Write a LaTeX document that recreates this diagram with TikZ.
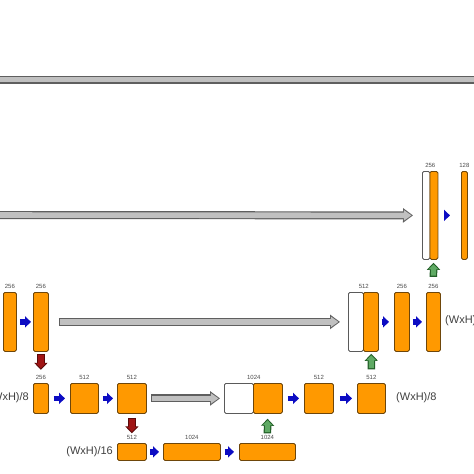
\documentclass[tikz,border=0pt]{standalone}
\usepackage{fontspec}
\setmainfont{Liberation Sans}
\usetikzlibrary{positioning,arrows.meta}
\definecolor{maporange}{RGB}{255,153,0}
\definecolor{mapedge}{RGB}{110,70,10}
\definecolor{copyedge}{RGB}{90,90,90}
\definecolor{convblue}{RGB}{12,12,195}
\definecolor{skipfill}{RGB}{192,192,192}
\definecolor{skipedge}{RGB}{95,95,95}
\definecolor{poolred}{RGB}{160,20,20}
\definecolor{pooledge}{RGB}{90,10,10}
\definecolor{upgreen}{RGB}{95,170,100}
\definecolor{upedge}{RGB}{35,95,40}
% fat arrow: edge pass, then fill pass
\newcommand\fatarrow[5]{%
  \draw[#1 edge, shorten <=#4, shorten >=#5] (#2) -- (#3);
  \draw[#1 fill, shorten <=#4+1.2pt, shorten >=#5+1.5pt] (#2) -- (#3);}
\begin{document}
\begin{tikzpicture}[x=1pt, y=-1pt,
        fmap/.style={draw=mapedge, fill=maporange, line width=0.8pt, rounded corners=1.5pt, inner sep=0pt, anchor=north west},
        cmap/.style={fmap, draw=copyedge, fill=white},
        chan/.style={font=\fontsize{6}{7}\selectfont, text=black!70, inner sep=0.5pt},
        reso/.style={font=\fontsize{11}{13}\selectfont, text=black!75, inner sep=0pt},
        conv/.style={draw=convblue, line width=5.5pt, -{Triangle[length=6pt, width=11pt]}, shorten <=4pt, shorten >=4pt},
        skip edge/.style={draw=skipedge, line width=8pt, -{Triangle[length=10pt, width=14pt]}},
        skip fill/.style={draw=skipfill, line width=5.6pt, -{Triangle[length=7.6pt, width=10pt]}},
        pool edge/.style={draw=pooledge, line width=8.5pt, -{Triangle[length=7pt, width=13pt]}},
        pool fill/.style={draw=poolred, line width=6pt, -{Triangle[length=5pt, width=9.5pt]}},
        up edge/.style={draw=upedge, line width=7.5pt, -{Triangle[length=7pt, width=13pt]}},
        up fill/.style={draw=upgreen, line width=5pt, -{Triangle[length=5pt, width=9.5pt]}}]
    \clip (0,0) rectangle (474,474);
    \fill[white] (0,0) rectangle (474,474);
    % level 2
    \node[cmap, minimum width=7.5pt, minimum height=88pt] (u2w) at (422,171) {};
    \node[fmap, minimum width=8pt, minimum height=88pt] (u2a) at (429.5,171) {};
    \node[fmap, minimum width=6pt, minimum height=88pt] (u2b) at (461,171) {};
    \node[chan, above=3pt of u2w.north east] (c-u2a) {256};
    \node[chan, above=3pt of u2b] (c-u2b) {128};
    % level 3
    \node[fmap, minimum width=13pt, minimum height=59pt] (d3a) at (3,292) {};
    \node[fmap, minimum width=15pt, minimum height=59pt] (d3b) at (33,292) {};
    \node[cmap, minimum width=15pt, minimum height=59pt] (u3w) at (348,292) {};
    \node[fmap, minimum width=15pt, minimum height=59pt] (u3a) at (363,292) {};
    \node[fmap, minimum width=15pt, minimum height=59pt] (u3b) at (394,292) {};
    \node[fmap, minimum width=14pt, minimum height=59pt] (u3c) at (426,292) {};
    \node[chan, above=3pt of d3a] (c-d3a) {256};
    \node[chan, above=3pt of d3b] (c-d3b) {256};
    \node[chan, above=3pt of u3w.north east] (c-u3a) {512};
    \node[chan, above=3pt of u3b] (c-u3b) {256};
    \node[chan, above=3pt of u3c] (c-u3c) {256};
    \node[reso, anchor=west] (r3) at (445,321) {(WxH)/4};
    % level 4
    \node[fmap, minimum width=15pt, minimum height=30pt] (d4a) at (33,383) {};
    \node[fmap, minimum width=28pt, minimum height=30pt] (d4b) at (70,383) {};
    \node[fmap, minimum width=29pt, minimum height=30pt] (d4c) at (117,383) {};
    \node[cmap, minimum width=29pt, minimum height=30pt] (u4w) at (224,383) {};
    \node[fmap, minimum width=29pt, minimum height=30pt] (u4a) at (253,383) {};
    \node[fmap, minimum width=29pt, minimum height=30pt] (u4b) at (304,383) {};
    \node[fmap, minimum width=28pt, minimum height=30pt] (u4c) at (357,383) {};
    \node[chan, above=3pt of d4a] (c-d4a) {256};
    \node[chan, above=3pt of d4b] (c-d4b) {512};
    \node[chan, above=3pt of d4c] (c-d4c) {512};
    \node[chan, above=3pt of u4w.north east] (c-u4a) {1024};
    \node[chan, above=3pt of u4b] (c-u4b) {512};
    \node[chan, above=3pt of u4c] (c-u4c) {512};
    \node[reso, anchor=east] (r4l) at (29,398) {(WxH)/8};
    \node[reso, anchor=west] (r4r) at (396,398) {(WxH)/8};
    % level 5
    \node[fmap, minimum width=29pt, minimum height=17pt] (b5a) at (117,443) {};
    \node[fmap, minimum width=57pt, minimum height=17pt] (b5b) at (163,443) {};
    \node[fmap, minimum width=56pt, minimum height=17pt] (b5c) at (239,443) {};
    \node[chan, above=3pt of b5a] (c-b5a) {512};
    \node[chan, above=3pt of b5b] (c-b5b) {1024};
    \node[chan, above=3pt of b5c] (c-b5c) {1024};
    \node[reso, anchor=east] (r5) at (113,452) {(WxH)/16};
    % convolutions
    \draw[conv, shorten <=3pt, shorten >=2pt] (d3a) -- (d3b);
    \draw[conv, shorten <=5pt, shorten >=5pt] (d4a) -- (d4b);
    \draw[conv] (d4b) -- (d4c);
    \draw[conv, shorten <=3pt] (b5a) -- (b5b);
    \draw[conv, shorten >=5pt] (b5b) -- (b5c);
    \draw[conv, shorten <=5pt, shorten >=5pt] (u4a) -- (u4b);
    \draw[conv, shorten <=6pt, shorten >=5pt] (u4b) -- (u4c);
    \draw[conv, shorten <=3pt, shorten >=5pt] (u3a) -- (u3b);
    \draw[conv, shorten <=3pt] (u3b) -- (u3c);
    \draw[conv, shorten <=5.5pt, shorten >=11pt] (u2a) -- (u2b);
    % copy and crop
    \coordinate (s1a) at (-20,79.5);
    \coordinate (s1b) at (494,79.5);
    \coordinate (s2) at (-20,215);
    \fatarrow{skip}{s1a}{s1b}{0pt}{0pt}
    \fatarrow{skip}{s2}{u2w}{0pt}{9pt}
    \fatarrow{skip}{d3b}{u3w}{10pt}{8pt}
    \fatarrow{skip}{d4c}{u4w}{4pt}{4pt}
    % max pooling
    \fatarrow{pool}{d3b}{c-d4a}{2pt}{4.5pt}
    \fatarrow{pool}{d4c}{c-b5a}{4pt}{1pt}
    % up-convolution
    \fatarrow{up}{c-b5c}{u4a}{1pt}{5pt}
    \fatarrow{up}{c-u4c}{u3a}{5pt}{2pt}
    \fatarrow{up}{c-u3c}{u2a}{6.5pt}{3pt}
\end{tikzpicture}
\end{document}
